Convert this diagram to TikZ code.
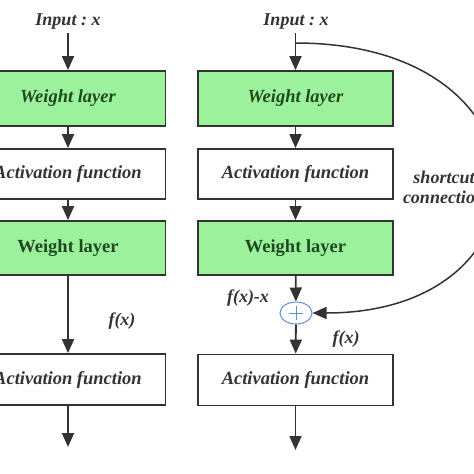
\documentclass[tikz,border=0pt]{standalone}
\usepackage{fontspec}
\setmainfont{Liberation Serif}
\usetikzlibrary{arrows.meta,shapes.geometric,calc}
\definecolor{wgreen}{HTML}{9CF29C}
\definecolor{wtext}{HTML}{1E4A1E}
\definecolor{lgray}{HTML}{333333}
\definecolor{pblue}{HTML}{5B8FD9}
\tikzset{
  wbox/.style={draw=lgray, line width=1.8pt, fill=wgreen, minimum width=195pt, inner sep=0pt},
  abox/.style={draw=lgray, line width=1.8pt, fill=white, minimum width=195pt, minimum height=50pt, inner sep=0pt},
  flow/.style={draw=lgray, line width=1.8pt, -{Triangle[width=12pt,length=14pt]}},
  lbl/.style={text=lgray, font=\fontsize{18}{20}\selectfont\bfseries\itshape, inner sep=0pt},
  wl1/.style={text=wtext, font=\fontsize{18.5}{20}\selectfont\bfseries\itshape},
  wl2/.style={text=wtext, font=\fontsize{18.5}{20}\selectfont\bfseries},
  af/.style={text=lgray, font=\fontsize{18.5}{20}\selectfont\bfseries\itshape},
}
\begin{document}
\begin{tikzpicture}[x=1pt,y=-1pt]
\useasboundingbox (0,0) rectangle (474,474);
\clip (0,0) rectangle (474,474);
\fill[white] (0,0) rectangle (474,474);
% left column
\node[lbl] (inL) at (68,22) {Input :\ x};
\coordinate (inLs) at (68,33);
\node[wbox, minimum height=55pt, wl1] (w1L) at (68,98.5) {Weight layer};
\node[abox, af] (a1L) at (68,174) {Activation function};
\node[wbox, minimum height=54pt, wl2] (w2L) at (68,248) {Weight layer};
\node[abox, minimum height=51pt, af] (a2L) at (68,379.5) {Activation function};
\coordinate (outL) at (68,447);
\node[lbl] (fL) at (122,321) {f(x)};
\draw[flow] (inLs) -- (w1L);
\draw[flow] (w1L) -- (a1L);
\draw[flow] (a1L) -- (w2L);
\draw[flow] (w2L) -- (a2L);
\draw[flow] (a2L) -- (outL);
% right column
\node[lbl] (inR) at (296,22) {Input :\ x};
\coordinate (inRs) at (295.5,33);
\coordinate (br) at (295.5,43);
\node[wbox, minimum height=55pt, wl1] (w1R) at (295.5,98.5) {Weight layer};
\node[abox, af] (a1R) at (295.5,174) {Activation function};
\node[wbox, minimum height=54pt, wl2] (w2R) at (295.5,248) {Weight layer};
\node[draw=pblue, line width=1pt, ellipse, minimum width=32pt, minimum height=22pt, inner sep=0pt, fill=white] (plus) at (296,313) {};
\draw[pblue, line width=1pt] ($(plus.center)+(-7,0)$) -- ($(plus.center)+(7,0)$) ($(plus.center)+(0,-7)$) -- ($(plus.center)+(0,7)$);
\node[abox, minimum height=51pt, af] (a2R) at (295.5,380) {Activation function};
\coordinate (outR) at (295.5,450);
\node[lbl] (fxx) at (248,298) {f(x)-x};
\node[lbl] (fR) at (346,339) {f(x)};
\node[lbl, align=center] (sc) at (444,187) {shortcut\\connection};
\draw[flow] (inRs) -- (w1R);
\draw[flow] (w1R) -- (a1R);
\draw[flow] (a1R) -- (w2R);
\draw[flow] (w2R) -- (plus);
\draw[flow] (plus) -- (a2R);
\draw[flow] (a2R) -- (outR);
\draw[draw=lgray, line width=1.5pt, -{Triangle[width=12pt,length=14pt]}] (br) .. controls (560,43) and (560,313) .. (plus.east);
\end{tikzpicture}
\end{document}
